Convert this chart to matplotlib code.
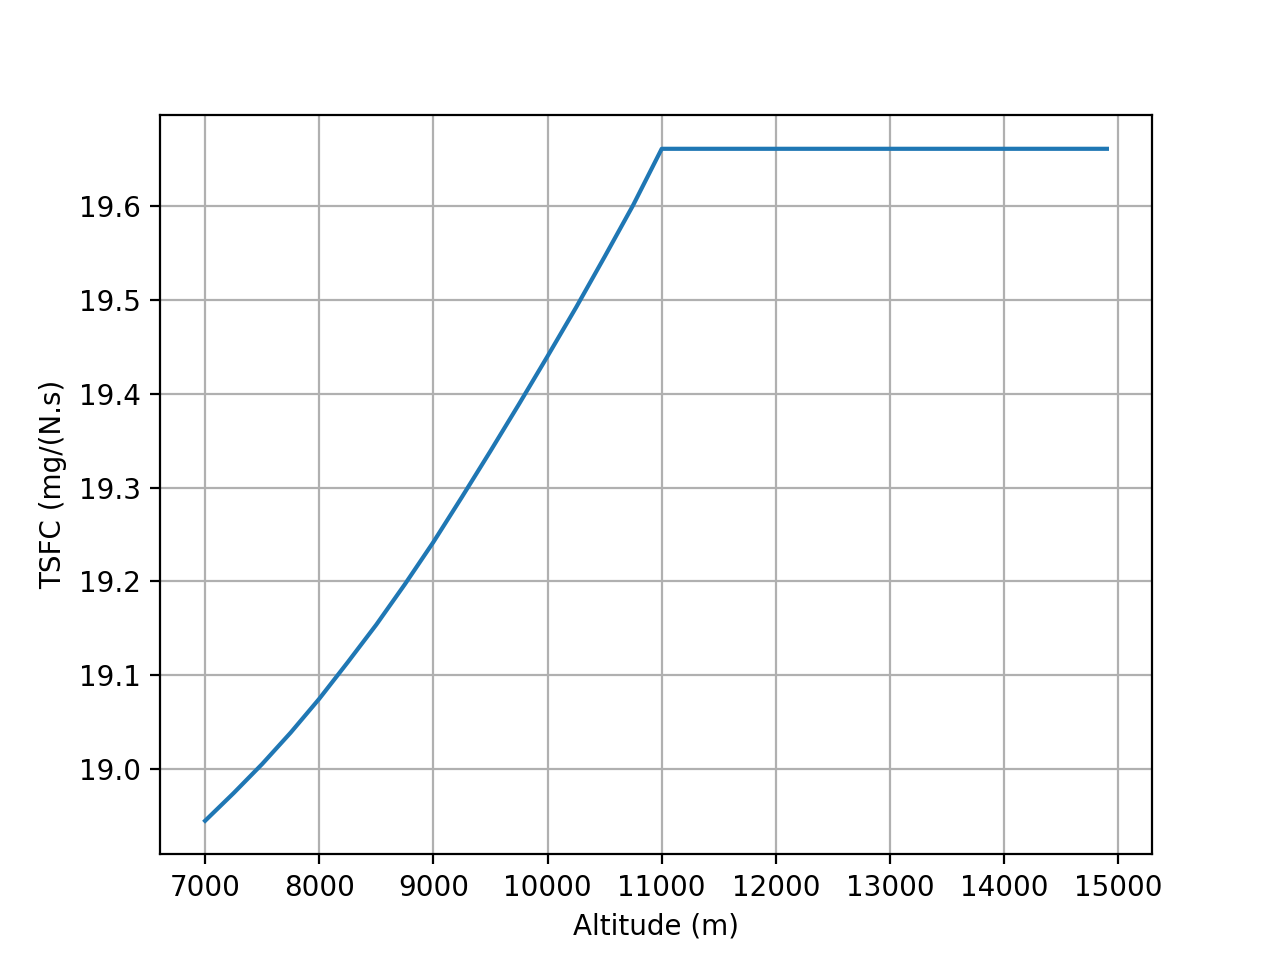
import matplotlib
matplotlib.use("Agg")
import matplotlib.pyplot as plt

# altitude (m) and thrust specific fuel consumption
altitude = [7000, 7250, 7500, 7750, 8000, 8250, 8500, 8750, 9000, 9250,
            9500, 9750, 10000, 10250, 10500, 10750, 11000, 14900]
tsfc = [18.945, 18.9745, 19.0055, 19.039, 19.075, 19.114, 19.154, 19.197, 19.242, 19.290,
        19.339, 19.389, 19.440, 19.492, 19.546, 19.601, 19.661, 19.661]

fig, ax = plt.subplots(figsize=(6.4, 4.8), dpi=200)
ax.plot(altitude, tsfc)
ax.set_xlabel("Altitude (m)")
ax.set_ylabel("TSFC (mg/(N.s)")
ax.grid(True)

fig.savefig("out.png", dpi=200)
